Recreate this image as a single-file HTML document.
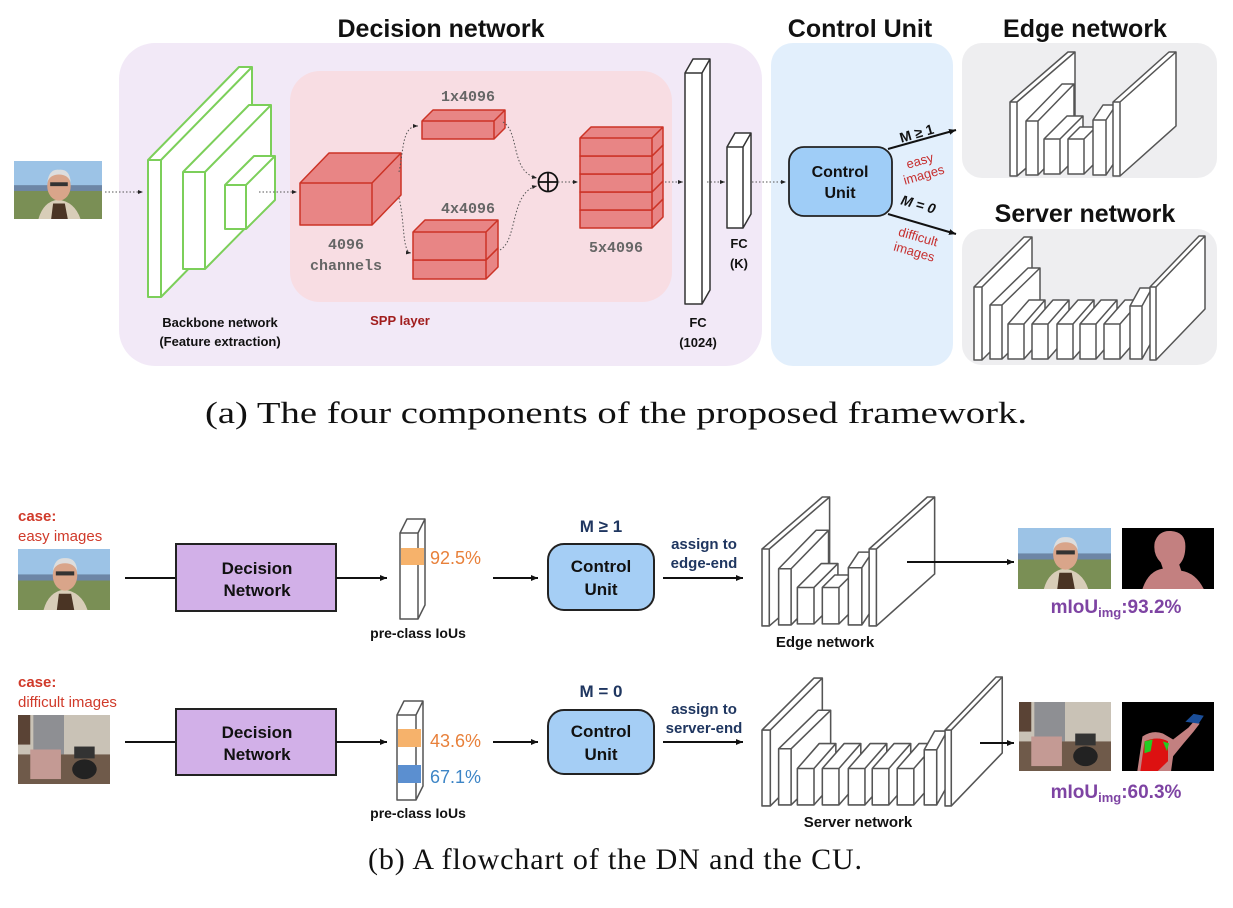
<!DOCTYPE html>
<html><head><meta charset="utf-8"><style>
html,body{margin:0;padding:0;background:#fff;}
svg{display:block;font-family:"Liberation Sans",sans-serif;}
.g path{fill:#fff;stroke:#7ccf5a;stroke-width:2;stroke-linejoin:round}
.r path{fill:#e88585;stroke:#cc3326;stroke-width:1.5;stroke-linejoin:round}
.w path{fill:#fff;stroke:#555;stroke-width:1.5;stroke-linejoin:round}
.dot{fill:none;stroke:#555;stroke-width:1;stroke-dasharray:1.5 2}
.mono{font-family:"Liberation Mono",monospace;fill:#666;font-weight:bold}
</style></head><body>
<svg width="1233" height="908" viewBox="0 0 1233 908" xmlns="http://www.w3.org/2000/svg">
<defs>
<marker id="ah" markerWidth="8" markerHeight="8" refX="7" refY="4" orient="auto" markerUnits="userSpaceOnUse"><path d="M0 1 L7 4 L0 7Z" fill="#111"/></marker>
<marker id="as" markerWidth="6" markerHeight="6" refX="5" refY="3" orient="auto" markerUnits="userSpaceOnUse"><path d="M0 1 L5 3 L0 5Z" fill="#222"/></marker>
<symbol id="p1" viewBox="0 0 90 60" preserveAspectRatio="none">
<rect width="90" height="60" fill="#9cc3e6"/><rect y="28" width="90" height="32" fill="#7a8f55"/><rect y="25" width="90" height="6" fill="#6d86a6"/>
<path d="M25 60 Q30 42 45 40 Q62 42 68 60Z" fill="#d8cdb8"/><path d="M38 60 L40 44 L52 44 L55 60Z" fill="#4a3424"/>
<ellipse cx="46" cy="26" rx="12" ry="15" fill="#d9a58a"/><path d="M34 22 Q36 8 46 9 Q57 8 58 22 Q55 14 46 14 Q37 14 34 22Z" fill="#ddd"/>
<rect x="37" y="22" width="18" height="4" fill="#333"/></symbol>
<symbol id="p2" viewBox="0 0 90 70" preserveAspectRatio="none">
<rect width="90" height="70" fill="#c9c2b6"/><rect x="15" y="0" width="30" height="40" fill="#8e8f93"/><rect x="0" y="0" width="12" height="30" fill="#5a4335"/>
<rect y="40" width="90" height="30" fill="#6f5a4a"/><rect x="12" y="35" width="30" height="30" fill="#c49a94"/><rect x="55" y="32" width="20" height="12" fill="#333"/>
<ellipse cx="65" cy="55" rx="12" ry="10" fill="#222"/></symbol>
<symbol id="m1" viewBox="0 0 90 60" preserveAspectRatio="none">
<rect width="90" height="60" fill="#000"/><path d="M20 60 Q26 42 40 40 L38 34 Q30 26 32 14 Q36 2 48 3 Q62 4 62 18 Q62 30 56 36 L58 42 Q72 44 80 60Z" fill="#c38080"/></symbol>
<symbol id="m2" viewBox="0 0 90 70" preserveAspectRatio="none">
<rect width="90" height="70" fill="#000"/><path d="M15 70 L20 35 Q30 28 40 32 L50 38 Q60 30 65 26 L70 20 L76 22 L70 30 Q60 42 50 55 L48 70Z" fill="#c38080"/>
<path d="M18 70 L22 40 Q35 34 45 40 L45 60 L35 70Z" fill="#dd1111"/><path d="M22 40 L30 38 L28 50 L22 52Z M40 40 L46 42 L44 50 Z" fill="#22cc22"/>
<path d="M62 20 L70 12 L80 14 L75 22Z" fill="#1b4f9a"/></symbol>
<g id="edgeNet" class="w">
<path d="M1010 102h7v74h-7Z M1010 102l58 -50h7l-58 50Z M1017 102l58 -50v74l-58 50Z"/>
<path d="M1026 121h12v54h-12Z M1026 121l36 -37h12l-36 37Z M1038 121l36 -37v54l-36 37Z"/>
<path d="M1044 139h16v35h-16Z M1044 139l23 -23h16l-23 23Z M1060 139l23 -23v35l-23 23Z"/>
<path d="M1068 139h16v35h-16Z M1068 139l12 -12h16l-12 12Z M1084 139l12 -12v35l-12 12Z"/>
<path d="M1093 120h13v55h-13Z M1093 120l10 -15h13l-10 15Z M1106 120l10 -15v55l-10 15Z"/>
<path d="M1113 102h7v74h-7Z M1113 102l56 -50h7l-56 50Z M1120 102l56 -50v74l-56 50Z"/>
</g>
<g id="srvNet" class="w">
<path d="M974 287h8v73h-8Z M974 287l50 -50h8l-50 50Z M982 287l50 -50v73l-50 50Z"/>
<path d="M990 305h12v54h-12Z M990 305l38 -37h12l-38 37Z M1002 305l38 -37v54l-38 37Z"/>
<path d="M1008 324h16v35h-16Z M1008 324l21 -24h16l-21 24Z M1024 324l21 -24v35l-21 24Z"/>
<path d="M1032 324h16v35h-16Z M1032 324l21 -24h16l-21 24Z M1048 324l21 -24v35l-21 24Z"/>
<path d="M1057 324h16v35h-16Z M1057 324l21 -24h16l-21 24Z M1073 324l21 -24v35l-21 24Z"/>
<path d="M1080 324h16v35h-16Z M1080 324l21 -24h16l-21 24Z M1096 324l21 -24v35l-21 24Z"/>
<path d="M1104 324h16v35h-16Z M1104 324l21 -24h16l-21 24Z M1120 324l21 -24v35l-21 24Z"/>
<path d="M1130 306h12v53h-12Z M1130 306l10 -18h12l-10 18Z M1142 306l10 -18v53l-10 18Z"/>
<path d="M1150 287h6v73h-6Z M1150 287l49 -51h6l-49 51Z M1156 287l49 -51v73l-49 51Z"/>
</g>
</defs>

<rect x="119" y="43" width="643" height="323" rx="36" fill="#f2e9f7"/>
<rect x="290" y="71" width="382" height="231" rx="30" fill="#f8dde3"/>
<rect x="771" y="43" width="182" height="323" rx="22" fill="#e2effc"/>
<rect x="962" y="43" width="255" height="135" rx="20" fill="#eeeef0"/>
<rect x="962" y="229" width="255" height="136" rx="20" fill="#eeeef0"/>

<text x="441" y="37" font-size="25" font-weight="bold" text-anchor="middle" fill="#111">Decision network</text>
<text x="860" y="37" font-size="25" font-weight="bold" text-anchor="middle" fill="#111">Control Unit</text>
<text x="1085" y="37" font-size="25" font-weight="bold" text-anchor="middle" fill="#111">Edge network</text>
<text x="1085" y="222" font-size="25" font-weight="bold" text-anchor="middle" fill="#111">Server network</text>

<use href="#p1" x="14" y="161" width="88" height="58"/>
<line x1="105" y1="192" x2="143" y2="192" class="dot" marker-end="url(#as)"/>

<g class="g">
<path d="M148 160h13v137h-13Z M148 160l91 -93h13l-91 93Z M161 160l91 -93v137l-91 93Z"/>
<path d="M183 172h22v97h-22Z M183 172l66 -67h22l-66 67Z M205 172l66 -67v97l-66 67Z"/>
<path d="M225 185h21v44h-21Z M225 185l29 -29h21l-29 29Z M246 185l29 -29v44l-29 29Z"/>
</g>
<line x1="259" y1="192" x2="297" y2="192" class="dot" marker-end="url(#as)"/>

<g class="r">
<path d="M300 183h72v42h-72Z M300 183l29 -30h72l-29 30Z M372 183l29 -30v42l-29 30Z"/>
<path d="M422 121h72v18h-72Z M422 121l11 -11h72l-11 11Z M494 121l11 -11v18l-11 11Z"/>
<path d="M413 260h73v19h-73Z M413 260l12 -12h73l-12 12Z M486 260l12 -12v19l-12 12Z"/>
<path d="M413 232h73v28h-73Z M413 232l12 -12h73l-12 12Z M486 232l12 -12v28l-12 12Z"/>
<path d="M580 210h72v18h-72Z M580 210l11 -11h72l-11 11Z M652 210l11 -11v18l-11 11Z"/>
<path d="M580 192h72v18h-72Z M580 192l11 -11h72l-11 11Z M652 192l11 -11v18l-11 11Z"/>
<path d="M580 174h72v18h-72Z M580 174l11 -11h72l-11 11Z M652 174l11 -11v18l-11 11Z"/>
<path d="M580 156h72v18h-72Z M580 156l11 -11h72l-11 11Z M652 156l11 -11v18l-11 11Z"/>
<path d="M580 138h72v18h-72Z M580 138l11 -11h72l-11 11Z M652 138l11 -11v18l-11 11Z"/>
</g>
<text x="468" y="101" font-size="15" class="mono" text-anchor="middle">1x4096</text>
<text x="468" y="213" font-size="15" class="mono" text-anchor="middle">4x4096</text>
<text x="346" y="249" font-size="15" class="mono" text-anchor="middle">4096</text>
<text x="346" y="270" font-size="15" class="mono" text-anchor="middle">channels</text>
<text x="616" y="252" font-size="15" class="mono" text-anchor="middle">5x4096</text>
<path d="M399 172 C404 148 402 126 418 126" class="dot" marker-end="url(#as)"/>
<path d="M399 198 C405 222 402 252 411 253" class="dot" marker-end="url(#as)"/>
<path d="M503 122 C520 132 510 172 537 178" class="dot" marker-end="url(#as)"/>
<path d="M500 250 C518 240 510 192 537 186" class="dot" marker-end="url(#as)"/>
<circle cx="548" cy="182" r="9.5" fill="none" stroke="#111" stroke-width="1.8"/>
<path d="M539 182h18M548 173v18" stroke="#111" stroke-width="1.8"/>
<line x1="558" y1="182" x2="578" y2="182" class="dot" marker-end="url(#as)"/>
<text x="400" y="325" font-size="13" font-weight="bold" fill="#a11d1d" text-anchor="middle">SPP layer</text>
<text x="220" y="327" font-size="13" font-weight="bold" fill="#111" text-anchor="middle">Backbone network</text>
<text x="220" y="346" font-size="13" font-weight="bold" fill="#111" text-anchor="middle">(Feature extraction)</text>

<line x1="665" y1="182" x2="683" y2="182" class="dot" marker-end="url(#as)"/>
<g class="w"><path d="M685 73h17v231h-17Z M685 73l8 -14h17l-8 14Z M702 73l8 -14v231l-8 14Z" style="stroke:#333"/>
<path d="M727 147h16v81h-16Z M727 147l8 -14h16l-8 14Z M743 147l8 -14v81l-8 14Z" style="stroke:#333"/></g>
<line x1="707" y1="182" x2="725" y2="182" class="dot" marker-end="url(#as)"/>
<line x1="752" y1="182" x2="786" y2="182" class="dot" marker-end="url(#as)"/>
<text x="698" y="327" font-size="13" font-weight="bold" fill="#111" text-anchor="middle">FC</text>
<text x="698" y="347" font-size="13" font-weight="bold" fill="#111" text-anchor="middle">(1024)</text>
<text x="739" y="248" font-size="13" font-weight="bold" fill="#111" text-anchor="middle">FC</text>
<text x="739" y="268" font-size="13" font-weight="bold" fill="#111" text-anchor="middle">(K)</text>

<rect x="789" y="147" width="103" height="69" rx="15" fill="#9fcdf7" stroke="#222" stroke-width="1.8"/>
<text x="840" y="177" font-size="16" font-weight="bold" text-anchor="middle" fill="#111">Control</text>
<text x="840" y="198" font-size="16" font-weight="bold" text-anchor="middle" fill="#111">Unit</text>
<line x1="888" y1="149" x2="956" y2="130" stroke="#111" stroke-width="2" marker-end="url(#ah)"/>
<line x1="888" y1="214" x2="956" y2="234" stroke="#111" stroke-width="2" marker-end="url(#ah)"/>
<text transform="translate(918,138) rotate(-16)" font-size="14" font-weight="bold" text-anchor="middle" fill="#111">M ≥ 1</text>
<text transform="translate(921,165) rotate(-16)" font-size="13" text-anchor="middle" fill="#c62f2f">easy</text>
<text transform="translate(925,179) rotate(-16)" font-size="13" text-anchor="middle" fill="#c62f2f">images</text>
<text transform="translate(917,209) rotate(16)" font-size="14" font-weight="bold" font-style="italic" text-anchor="middle" fill="#111">M = 0</text>
<text transform="translate(917,241) rotate(16)" font-size="13" text-anchor="middle" fill="#c62f2f">difficult</text>
<text transform="translate(913,256) rotate(16)" font-size="13" text-anchor="middle" fill="#c62f2f">images</text>

<use href="#edgeNet"/>
<use href="#srvNet"/>

<text x="616" y="423" font-family="Liberation Serif, serif" font-size="31" text-anchor="middle" fill="#111" textLength="822" lengthAdjust="spacingAndGlyphs">(a) The four components of the proposed framework.</text>

<text x="18" y="521" font-size="15" font-weight="bold" fill="#d03a2a">case:</text>
<text x="18" y="541" font-size="15" fill="#d03a2a">easy images</text>
<use href="#p1" x="18" y="549" width="92" height="61"/>
<line x1="125" y1="578" x2="176" y2="578" stroke="#111" stroke-width="2"/>
<rect x="176" y="544" width="160" height="67" fill="#d2b0e8" stroke="#222" stroke-width="2"/>
<text x="257" y="574" font-size="17" font-weight="bold" text-anchor="middle" fill="#111">Decision</text>
<text x="257" y="596" font-size="17" font-weight="bold" text-anchor="middle" fill="#111">Network</text>
<line x1="336" y1="578" x2="387" y2="578" stroke="#111" stroke-width="2" marker-end="url(#ah)"/>
<g class="w"><path d="M400 533h18v86h-18Z M400 533l7 -14h18l-7 14Z M418 533l7 -14v86l-7 14Z"/></g>
<rect x="401" y="548" width="23" height="17" fill="#f6b26b"/>
<text x="430" y="564" font-size="18" fill="#e8803a">92.5%</text>
<text x="418" y="638" font-size="14" font-weight="bold" text-anchor="middle" fill="#111">pre-class IoUs</text>
<line x1="493" y1="578" x2="538" y2="578" stroke="#111" stroke-width="2" marker-end="url(#ah)"/>
<rect x="548" y="544" width="106" height="66" rx="16" fill="#a5cef5" stroke="#222" stroke-width="2"/>
<text x="601" y="572" font-size="17" font-weight="bold" text-anchor="middle" fill="#111">Control</text>
<text x="601" y="595" font-size="17" font-weight="bold" text-anchor="middle" fill="#111">Unit</text>
<text x="601" y="532" font-size="17" font-weight="bold" text-anchor="middle" fill="#1f3660">M ≥ 1</text>
<text x="704" y="549" font-size="15" font-weight="bold" text-anchor="middle" fill="#1f3660">assign to</text>
<text x="704" y="568" font-size="15" font-weight="bold" text-anchor="middle" fill="#1f3660">edge-end</text>
<line x1="663" y1="578" x2="743" y2="578" stroke="#111" stroke-width="2" marker-end="url(#ah)"/>
<use href="#edgeNet" transform="translate(762,497) scale(1.04) translate(-1010,-52)"/>
<text x="825" y="647" font-size="15" font-weight="bold" text-anchor="middle" fill="#111">Edge network</text>
<line x1="907" y1="562" x2="1014" y2="562" stroke="#111" stroke-width="2" marker-end="url(#ah)"/>
<use href="#p1" x="1018" y="528" width="93" height="61"/>
<use href="#m1" x="1122" y="528" width="92" height="61"/>
<text x="1116" y="613" font-size="19" font-weight="bold" text-anchor="middle" fill="#7e44a3">mIoU<tspan font-size="13" dy="4">img</tspan><tspan dy="-4">:93.2%</tspan></text>

<text x="18" y="687" font-size="15" font-weight="bold" fill="#d03a2a">case:</text>
<text x="18" y="707" font-size="15" fill="#d03a2a">difficult images</text>
<use href="#p2" x="18" y="715" width="92" height="69"/>
<line x1="125" y1="742" x2="176" y2="742" stroke="#111" stroke-width="2"/>
<rect x="176" y="709" width="160" height="66" fill="#d2b0e8" stroke="#222" stroke-width="2"/>
<text x="257" y="738" font-size="17" font-weight="bold" text-anchor="middle" fill="#111">Decision</text>
<text x="257" y="760" font-size="17" font-weight="bold" text-anchor="middle" fill="#111">Network</text>
<line x1="336" y1="742" x2="387" y2="742" stroke="#111" stroke-width="2" marker-end="url(#ah)"/>
<g class="w"><path d="M397 715h19v85h-19Z M397 715l7 -14h19l-7 14Z M416 715l7 -14v85l-7 14Z"/></g>
<rect x="398" y="729" width="23" height="18" fill="#f6b26b"/>
<rect x="398" y="765" width="23" height="18" fill="#5b8fd0"/>
<text x="430" y="747" font-size="18" fill="#e8803a">43.6%</text>
<text x="430" y="783" font-size="18" fill="#3d85c6">67.1%</text>
<text x="418" y="818" font-size="14" font-weight="bold" text-anchor="middle" fill="#111">pre-class IoUs</text>
<line x1="493" y1="742" x2="538" y2="742" stroke="#111" stroke-width="2" marker-end="url(#ah)"/>
<rect x="548" y="710" width="106" height="64" rx="16" fill="#a5cef5" stroke="#222" stroke-width="2"/>
<text x="601" y="737" font-size="17" font-weight="bold" text-anchor="middle" fill="#111">Control</text>
<text x="601" y="760" font-size="17" font-weight="bold" text-anchor="middle" fill="#111">Unit</text>
<text x="601" y="697" font-size="17" font-weight="bold" text-anchor="middle" fill="#1f3660">M = 0</text>
<text x="704" y="714" font-size="15" font-weight="bold" text-anchor="middle" fill="#1f3660">assign to</text>
<text x="704" y="733" font-size="15" font-weight="bold" text-anchor="middle" fill="#1f3660">server-end</text>
<line x1="663" y1="742" x2="743" y2="742" stroke="#111" stroke-width="2" marker-end="url(#ah)"/>
<use href="#srvNet" transform="translate(762,677) scale(1.04) translate(-974,-236)"/>
<text x="858" y="827" font-size="15" font-weight="bold" text-anchor="middle" fill="#111">Server network</text>
<line x1="980" y1="743" x2="1014" y2="743" stroke="#111" stroke-width="2" marker-end="url(#ah)"/>
<use href="#p2" x="1019" y="702" width="92" height="69"/>
<use href="#m2" x="1122" y="702" width="92" height="69"/>
<text x="1116" y="798" font-size="19" font-weight="bold" text-anchor="middle" fill="#7e44a3">mIoU<tspan font-size="13" dy="4">img</tspan><tspan dy="-4">:60.3%</tspan></text>

<text x="615" y="869" font-family="Liberation Serif, serif" font-size="30" text-anchor="middle" fill="#111" textLength="494">(b) A flowchart of the DN and the CU.</text>
</svg>
</body></html>
